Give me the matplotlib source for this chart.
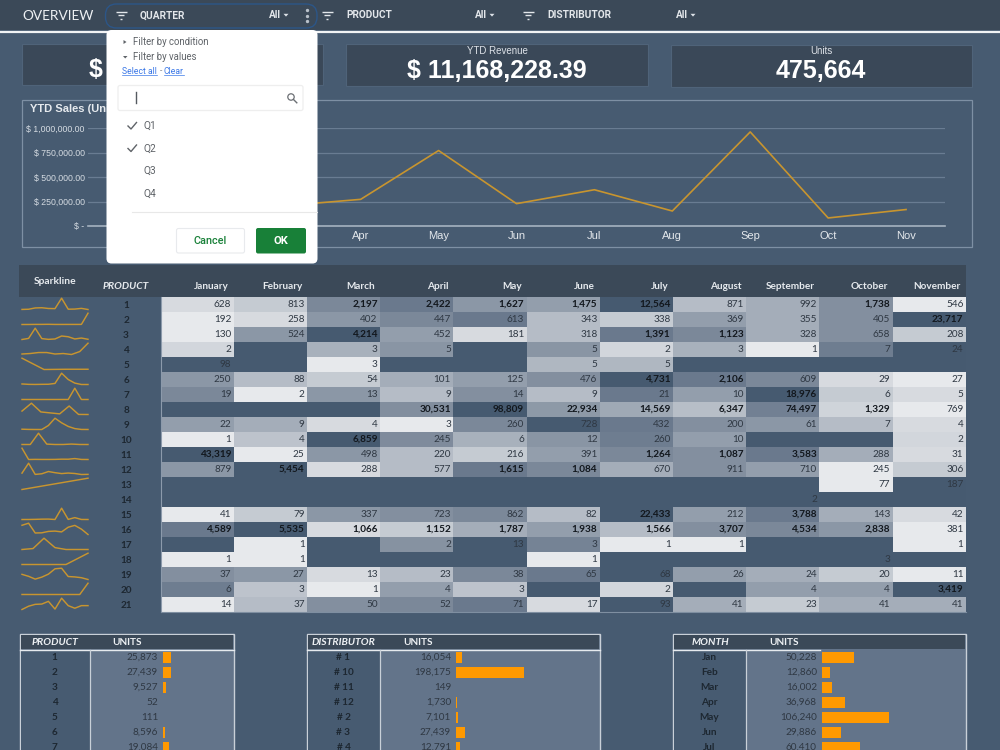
import numpy as np
import matplotlib
matplotlib.use("Agg")
import matplotlib.pyplot as plt
from matplotlib.colors import LinearSegmentedColormap
from matplotlib.patches import Rectangle, FancyBboxPatch, Circle

MONTHS = ["January", "February", "March", "April", "May", "June", "July",
          "August", "September", "October", "November"]
# Jan-Mar labels are hidden by the filter popup in the reference
MONTH_TICK_LABELS = ["", "", "", "Apr", "May", "Jun", "Jul", "Aug", "Sep", "Oct", "Nov"]
# Jan-Mar values sit behind the popup too, so those three are rough guesses
MONTHLY_SALES = [365000, 95000, 205000, 272000, 770000, 228000, 370000, 153000, 960000, 82000, 168000]
SALES_TICKS = [0, 250000, 500000, 750000, 1000000]
SALES_TICK_LABELS = ["$ -", "$ 250,000.00", "$ 500,000.00", "$ 750,000.00", "$ 1,000,000.00"]

_ = np.nan
PRODUCT_IDS = [str(i) for i in range(1, 22)]
UNITS_TABLE = np.array([
    [628, 813, 2197, 2422, 1627, 1475, 12564, 871, 992, 1738, 546],
    [192, 258, 402, 447, 613, 343, 338, 369, 355, 405, 23717],
    [130, 524, 4214, 452, 181, 318, 1391, 1123, 328, 658, 208],
    [2, _, 3, 5, _, 5, 2, 3, 1, 7, 24],
    [98, _, 3, _, _, 5, 5, _, _, _, _],
    [250, 88, 54, 101, 125, 476, 4731, 2106, 609, 29, 27],
    [19, 2, 13, 9, 14, 9, 21, 10, 18976, 6, 5],
    [_, _, _, 30531, 98809, 22934, 14569, 6347, 74497, 1329, 769],
    [22, 9, 4, 3, 260, 728, 432, 200, 61, 7, 4],
    [1, 4, 6859, 245, 6, 12, 260, 10, _, _, 2],
    [43319, 25, 498, 220, 216, 391, 1264, 1087, 3583, 288, 31],
    [879, 5454, 288, 577, 1615, 1084, 670, 911, 710, 245, 306],
    [_, _, _, _, _, _, _, _, _, 77, 187],
    [_, _, _, _, _, _, _, _, 2, _, _],
    [41, 79, 337, 723, 862, 82, 22433, 212, 3788, 143, 42],
    [4589, 5535, 1066, 1152, 1787, 1938, 1566, 3707, 4534, 2838, 381],
    [_, 1, _, 2, 13, 3, 1, 1, _, _, 1],
    [1, 1, _, _, _, 1, _, _, _, 3, _],
    [37, 27, 13, 23, 38, 65, 68, 26, 24, 20, 11],
    [6, 3, 1, 4, 3, _, 2, _, 4, 4, 3419],
    [14, 37, 50, 52, 71, 17, 93, 41, 23, 41, 41],
])

PRODUCT_NAMES = ["1", "2", "3", "4", "5", "6", "7"]
PRODUCT_UNITS = [25873, 27439, 9527, 52, 111, 8596, 19084]
DISTRIBUTOR_NAMES = ["# 1", "# 10", "# 11", "# 12", "# 2", "# 3", "# 4"]
DISTRIBUTOR_UNITS = [16054, 198175, 149, 1730, 7101, 27439, 12791]
MONTH_NAMES = ["Jan", "Feb", "Mar", "Apr", "May", "Jun", "Jul"]
MONTH_UNITS = [50228, 12860, 16002, 36968, 106240, 29886, 60410]

BG = "#475b71"
BAND = "#3b4958"
CARD = "#3a4858"
GOLD = "#c8952f"
LIGHT_TEXT = "#dde2e8"
TABLE_FONT = "Lato"
WIDE_FONT = "Liberation Sans"
UI_FONT = "Roboto"

fig = plt.figure(figsize=(10, 7.5), dpi=100, facecolor=BG)


def px_axes(x0, y0, x1, y1, zorder=1):
    """Axes placed with the picture's pixel box (y counted from the top)."""
    ax = fig.add_axes([x0 / 1000, 1 - y1 / 750, (x1 - x0) / 1000, (y1 - y0) / 750], zorder=zorder)
    ax.patch.set_alpha(0)
    return ax


def box(ax, x0, y0, x1, y1, fc="none", ec="none", lw=1, **kw):
    ax.add_patch(Rectangle((x0, y0), x1 - x0, y1 - y0, fc=fc, ec=ec, lw=lw, **kw))


def round_box(ax, x0, y0, x1, y1, rad, fc="none", ec="none", lw=1):
    ax.add_patch(FancyBboxPatch((x0 + rad, y0 + rad), x1 - x0 - 2 * rad, y1 - y0 - 2 * rad,
                                boxstyle=f"round,pad={rad},rounding_size={rad}", fc=fc, ec=ec, lw=lw))


def filter_icon(ax, x, y, color="#e3e7eb"):
    for half, dy in [(5.5, -3.5), (3.2, 0), (1.2, 3.5)]:
        ax.plot([x - half, x + half], [y + dy, y + dy], color=color, lw=1.0, solid_capstyle="butt")


def dropdown_caret(ax, x, y, color=LIGHT_TEXT):
    ax.fill([x - 2.5, x + 2.5, x], [y - 1.2, y - 1.2, y + 1.6], color=color, lw=0)


# page furniture, in pixel coordinates
page = px_axes(0, 0, 1000, 750, zorder=0)
page.set_xlim(0, 1000)
page.set_ylim(750, 0)
page.axis("off")

box(page, 0, 0, 1000, 30, fc=BAND)
page.plot([0, 1000], [31.5, 31.5], color="#f2f4f6", lw=1.6)
page.text(22, 15.5, "OVERVIEW", color="#eef1f4", fontsize=9.8, family=TABLE_FONT, va="center")
round_box(page, 105.5, 4, 317, 28, 11, ec="#2c5688", lw=1)
for icon_x, label_x, name, all_x in [(121, 140, "QUARTER", 269), (327, 346, "PRODUCT", 475), (528, 547, "DISTRIBUTOR", 676)]:
    filter_icon(page, icon_x, 15)
    page.text(label_x, 15.5, name, color="#e3e7eb", fontsize=7.3, fontweight="bold", family=UI_FONT, va="center")
    page.text(all_x, 15.5, "All", color="#e3e7eb", fontsize=7.2, fontweight="bold", family=UI_FONT, va="center")
    dropdown_caret(page, all_x + 17, 15)
page.plot([307, 307, 307], [10, 15.5, 21], ls="none", marker="o", ms=1.4, color="#b9c1ca")

for x0, y0, x1, y1 in [(22, 44, 323, 85), (346, 44, 648, 86), (671, 45, 972, 87)]:
    box(page, x0, y0, x1, y1, fc=CARD, ec="#4f6379", lw=0.8)
page.text(96, 70, "$", color="white", fontsize=18, fontweight="bold", family=WIDE_FONT, ha="center", va="center")
page.text(497, 51, "YTD Revenue", color=LIGHT_TEXT, fontsize=7, family=WIDE_FONT, ha="center", va="center")
page.text(497, 70.5, "$ 11,168,228.39", color="white", fontsize=18, fontweight="bold", family=WIDE_FONT, ha="center", va="center")
page.text(821, 51.5, "Units", color=LIGHT_TEXT, fontsize=7, family=WIDE_FONT, ha="center", va="center")
page.text(821, 71, "475,664", color="white", fontsize=18, fontweight="bold", family=WIDE_FONT, ha="center", va="center")

box(page, 22, 99.5, 971.5, 246.5, ec="#7e90a4", lw=0.9)
page.text(30, 109, "YTD Sales (Uni", color="#e6eaee", fontsize=8, fontweight="bold", family=WIDE_FONT, va="center")

box(page, 19, 265, 966, 297, fc=BAND)
page.text(55, 281, "Sparkline", color="#e6eaee", fontsize=7.4, fontweight="bold", family=TABLE_FONT, ha="center", va="center")

# monthly sales line
sales = px_axes(88, 128, 945, 226)
months_x = np.arange(len(MONTHLY_SALES))
sales.plot(months_x, MONTHLY_SALES, color=GOLD, lw=1.2, zorder=3, clip_on=False)
sales.set_xlim(-0.5, 10.5)
sales.set_ylim(0, 1000000)
sales.set_yticks(SALES_TICKS, labels=SALES_TICK_LABELS)
sales.set_xticks(months_x, labels=MONTH_TICK_LABELS)
sales.tick_params(axis="y", length=0, pad=2.5, labelsize=6.3, labelcolor="#d5dbe2")
sales.tick_params(axis="x", length=0, pad=3.6, labelsize=8, labelcolor="#e3e7eb")
for lab in sales.get_xticklabels() + sales.get_yticklabels():
    lab.set_family(WIDE_FONT)
sales.grid(axis="y", color="#697c92", lw=0.9)
sales.set_axisbelow(True)
for side in ["top", "left", "right"]:
    sales.spines[side].set_visible(False)
sales.spines["bottom"].set_color("#a5b2c0")
sales.spines["bottom"].set_linewidth(1.2)

# product x month table, shaded by each row's percentile
shade_map = LinearSegmentedColormap.from_list(
    "rowrank",
    [(0, "#e7e9ec"), (0.5, "#939eac"), (0.8, "#7b8899"), (0.9, "#6b7a8e"), (1, "#465a70")],
)
shade_map.set_bad("#465a70")
row_rank = np.full(UNITS_TABLE.shape, np.nan)
for r, row in enumerate(UNITS_TABLE):
    filled = row[~np.isnan(row)]
    if len(filled) > 1:
        for c in np.where(~np.isnan(row))[0]:
            row_rank[r, c] = np.sum(filled < row[c]) / (len(filled) - 1)

heat = px_axes(160.5, 297, 965.7, 612)
heat.pcolormesh(np.arange(12), np.arange(22), np.ma.masked_invalid(row_rank), cmap=shade_map, vmin=0, vmax=1)
heat.set_xlim(0, 11)
heat.set_ylim(21, 0)
heat.spines["left"].set_color("#8c9aab")
heat.spines["bottom"].set_color("#7f8fa1")
heat.spines["top"].set_visible(False)
heat.spines["right"].set_visible(False)
heat.set_xticks([])
heat.set_yticks(np.arange(21) + 0.5, labels=PRODUCT_IDS, ha="center")
heat.tick_params(axis="y", length=0, pad=24.8, labelsize=7.2, labelcolor="#1d2731")
for lab in heat.get_yticklabels():
    lab.set_family(TABLE_FONT)
    lab.set_fontweight("bold")
for r, row in enumerate(UNITS_TABLE):
    for c, v in enumerate(row):
        if np.isnan(v):
            continue
        heavy = v >= 1000
        heat.text(c + 0.968, r + 0.5, f"{int(v):,}", ha="right", va="center", fontsize=7.2, family=TABLE_FONT,
                  fontweight="bold" if heavy else "normal", color="#12171d" if heavy else "#2f3843")
for c, name in enumerate(MONTHS):
    heat.text(c + 0.935, -0.73, name, ha="right", va="center", fontsize=7.2, fontweight="bold",
              family=TABLE_FONT, color="#e6eaee", clip_on=False)
heat.text(-0.47, -0.73, "PRODUCT", ha="center", va="center", fontsize=7.4, fontweight="bold", style="italic",
          family=TABLE_FONT, color="#e6eaee", clip_on=False)

# sparklines: filled months only, spaced evenly across the cell
for r, row in enumerate(UNITS_TABLE):
    filled = row[~np.isnan(row)]
    if len(filled) < 2:
        continue
    top = 297 + 15 * r + 1.2
    spark = px_axes(22, top, 88, top + 11.3)
    spark.plot(np.linspace(0, 1, len(filled)), filled, color=GOLD, lw=1.05, clip_on=False)
    spark.set_xlim(0, 1)
    spark.set_ylim(filled.min(), filled.max())
    spark.axis("off")


def units_table(x0, split, x1, label, names, units, value_right, px_per_unit, label_x, units_x, rule_to):
    box(page, x0, 634, x1, 760, fc="#63748a", ec="#c9d0d8", lw=1)
    box(page, x0 + 1, 650, split, 760, fc=BG)
    box(page, x0 + 1, 635, x1 - 1, 649, fc=BAND)
    page.plot([x0, rule_to], [649.5, 649.5], color="#e6eaee", lw=1)
    page.plot([split, split], [650, 750], color="#c9d0d8", lw=0.9)
    page.text(label_x, 642.3, label, color="#eef1f4", fontsize=7.5, fontweight="bold", style="italic",
              family=TABLE_FONT, va="center")
    page.text(units_x, 642.3, "UNITS", color="#eef1f4", fontsize=7.2, fontweight="bold", family=TABLE_FONT, va="center")

    bar_x = value_right + 5
    bars = px_axes(bar_x, 650, x1 - 2, 755, zorder=2)
    rows = np.arange(len(units))
    bars.barh(rows, units, height=0.76, color="#ff9900")
    bars.set_xlim(0, (x1 - 2 - bar_x) / px_per_unit)
    bars.set_ylim(len(units) - 0.5, -0.5)
    bars.axis("off")
    for i, (name, val) in enumerate(zip(names, units)):
        y = 650 + 15 * (i + 0.5)
        page.text((x0 + split) / 2, y, name, ha="center", va="center", fontsize=7.2, fontweight="bold",
                  family=TABLE_FONT, color="#1d2731")
        page.text(value_right, y, f"{val:,}", ha="right", va="center", fontsize=7.2, family=TABLE_FONT, color="#2f3843")


units_table(19.5, 90, 234, "PRODUCT", PRODUCT_NAMES, PRODUCT_UNITS, 158, 0.00029, 32, 112, 234)
units_table(307, 380, 600, "DISTRIBUTOR", DISTRIBUTOR_NAMES, DISTRIBUTOR_UNITS, 451, 0.000345, 312, 403, 600)
units_table(673, 746, 966, "MONTH", MONTH_NAMES, MONTH_UNITS, 817, 0.000628, 692, 769, 820)

# the open filter popup sits over everything else
pop = px_axes(0, 0, 1000, 750, zorder=5)
pop.set_xlim(0, 1000)
pop.set_ylim(750, 0)
pop.axis("off")
round_box(pop, 106.5, 30, 317.5, 263.5, 5, fc="white")
pop.fill([123.5, 123.5, 126.5], [40, 44, 42], color="#5f6368", lw=0)
pop.fill([123, 127.5, 125.2], [56, 56, 58.5], color="#5f6368", lw=0)
pop.text(133, 42, "Filter by condition", color="#5f6368", fontsize=6.9, family=UI_FONT, va="center")
pop.text(133, 57, "Filter by values", color="#5f6368", fontsize=6.9, family=UI_FONT, va="center")
pop.text(122, 71, "Select all", color="#3b78e7", fontsize=6.2, family=UI_FONT, va="center")
pop.plot([122, 157], [74.5, 74.5], color="#3b78e7", lw=0.5)
pop.text(159.5, 71, "-", color="#5f6368", fontsize=6, family=UI_FONT, va="center")
pop.text(164, 71, "Clear", color="#3b78e7", fontsize=6.2, family=UI_FONT, va="center")
pop.plot([164, 184], [74.5, 74.5], color="#3b78e7", lw=0.5)
round_box(pop, 118, 85.5, 303, 110.5, 2, fc="white", ec="#eeeeee", lw=0.9)
pop.plot([136, 136], [92, 103], color="#555a60", lw=1)
pop.add_patch(Circle((291, 97), 3.2, fc="none", ec="#6b6f74", lw=0.9))
pop.plot([293.4, 296.8], [99.4, 102.8], color="#6b6f74", lw=1)
for y, quarter, ticked in [(126, "Q1", True), (148.5, "Q2", True), (171, "Q3", False), (194, "Q4", False)]:
    pop.text(143, y, quarter, color="#5f6368", fontsize=7.4, family=UI_FONT, va="center")
    if ticked:
        pop.plot([128, 131, 136.5], [y, y + 3, y - 3.5], color="#5f6368", lw=1)
pop.plot([132, 317], [212, 212], color="#e8e8e8", lw=0.8)
round_box(pop, 176.5, 228.5, 244.5, 253, 2, fc="white", ec="#e8eaed", lw=0.8)
pop.text(210.5, 241, "Cancel", color="#188038", fontsize=7.8, fontweight="medium", family=UI_FONT, ha="center", va="center")
round_box(pop, 256, 228, 306, 253.5, 2, fc="#188038")
pop.text(281, 241, "OK", color="white", fontsize=8, fontweight="bold", family=UI_FONT, ha="center", va="center")

fig.savefig("out.png", dpi=100, facecolor=BG)
